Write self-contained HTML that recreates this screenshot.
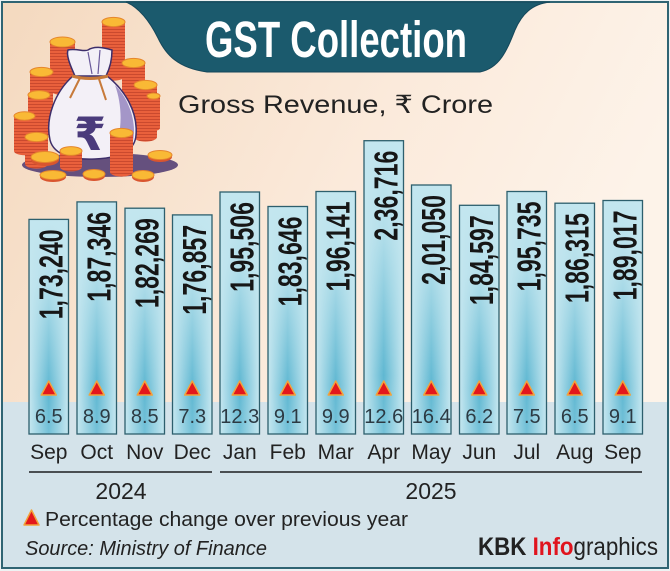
<!DOCTYPE html>
<html><head><meta charset="utf-8">
<style>
html,body{margin:0;padding:0;width:670px;height:571px;overflow:hidden;background:#fff}
svg{display:block}
text{font-family:"Liberation Sans","DejaVu Sans",sans-serif}
.v{font-size:33px;font-weight:bold;fill:#161616}
.p{font-size:20px;fill:#2c3a43;text-anchor:middle}
.m{font-size:21px;fill:#222;text-anchor:middle}
.tri{fill:#e3171c;stroke:#f3a23a;stroke-width:1.5;stroke-linejoin:round}
.bar{fill:url(#bv);stroke:#2d5f6d;stroke-width:1.3}
.bh{fill:url(#bh)}
.ct{fill:#f9b935;stroke:#e6862c;stroke-width:1}
.cb{fill:url(#stripe)}
</style></head><body>
<svg width="670" height="571" viewBox="0 0 670 571" xmlns="http://www.w3.org/2000/svg">
<defs>
<linearGradient id="peach" x1="0" y1="0" x2="1" y2="0.3">
<stop offset="0" stop-color="#f4d9bf"/>
<stop offset="0.6" stop-color="#fbeadb"/>
<stop offset="1" stop-color="#fdf3e9"/>
</linearGradient>
<linearGradient id="bh" x1="0" x2="1" y1="0" y2="0">
<stop offset="0" stop-color="#c6e7f0"/>
<stop offset="0.5" stop-color="#5ab5d0"/>
<stop offset="1" stop-color="#c6e7f0"/>
</linearGradient>
<linearGradient id="bv" x1="0" x2="0" y1="0" y2="1">
<stop offset="0" stop-color="#c3e6ef" stop-opacity="1"/>
<stop offset="0.3" stop-color="#c3e6ef" stop-opacity="0.85"/>
<stop offset="0.8" stop-color="#c3e6ef" stop-opacity="0.05"/>
<stop offset="1" stop-color="#c3e6ef" stop-opacity="0.25"/>
</linearGradient>
<pattern id="stripe" patternUnits="userSpaceOnUse" width="6" height="3">
<rect width="6" height="3" fill="#e9603c"/>
<rect y="2.2" width="6" height="0.8" fill="#c2432a"/>
</pattern>
</defs>

<rect x="0" y="0" width="670" height="571" fill="#eef2f3"/>
<rect x="2" y="2" width="666" height="400" fill="url(#peach)"/>
<rect x="2" y="402" width="666" height="166" fill="#d4e3ea"/>
<rect x="2" y="2" width="666" height="566" fill="none" stroke="#2f6473" stroke-width="2"/>

<path d="M126 2 C140 8,150 22,158 38 C166 55,178 68,207 72 L480 72 C500 68,507 50,515 30 C522 14,532 4,550 2 Z" fill="#1b5a6d" stroke="#15475a" stroke-width="1"/>
<text x="336" y="57" font-size="51" font-weight="bold" fill="#ffffff" text-anchor="middle" textLength="262" lengthAdjust="spacingAndGlyphs">GST Collection</text>

<text x="178" y="113" font-size="25" fill="#222" textLength="315" lengthAdjust="spacingAndGlyphs">Gross Revenue, ₹ Crore</text>

<g>
<path class="cb" d="M102 22 L102 76 A11.5 4.6 0 0 0 125 76 L125 22 Z"/><ellipse class="ct" cx="113.5" cy="22" rx="11.5" ry="4.6"/>
<path class="cb" d="M50 42 L50 90 A12.5 5 0 0 0 75 90 L75 42 Z"/><ellipse class="ct" cx="62.5" cy="42" rx="12.5" ry="5"/>
<path class="cb" d="M122 63 L122 107 A11.5 4.6 0 0 0 145 107 L145 63 Z"/><ellipse class="ct" cx="133.5" cy="63" rx="11.5" ry="4.6"/>
<path class="cb" d="M30 72 L30 120 A11.5 4.6 0 0 0 53 120 L53 72 Z"/><ellipse class="ct" cx="41.5" cy="72" rx="11.5" ry="4.6"/>
<path class="cb" d="M28 95 L28 133 A11 4.4 0 0 0 50 133 L50 95 Z"/><ellipse class="ct" cx="39" cy="95" rx="11" ry="4.4"/>
<path class="cb" d="M134 85 L134 137 A11.5 4.6 0 0 0 157 137 L157 85 Z"/><ellipse class="ct" cx="145.5" cy="85" rx="11.5" ry="4.6"/>
<path class="cb" d="M147 96 L147 128 A6.5 3 0 0 0 160 128 L160 96 Z"/><ellipse class="ct" cx="153.5" cy="96" rx="6.5" ry="3"/>
<path class="cb" d="M14 116 L14 151 A10.5 4.2 0 0 0 35 151 L35 116 Z"/><ellipse class="ct" cx="24.5" cy="116" rx="10.5" ry="4.2"/>
<ellipse cx="100" cy="165" rx="78" ry="12" fill="#4b3670" opacity="0.85"/>
<path d="M73 76 C55 92,45 118,50 140 C54 156,75 160,95 159 C118 158,135 152,136 135 C138 112,125 90,107 76 Z" fill="#f3f0f7" stroke="#3d2e6a" stroke-width="1.5"/>
<path d="M115 85 C130 100,138 125,132 145 C128 152,118 156,110 157 C122 140,124 110,115 85 Z" fill="#8a78b8" opacity="0.75"/>
<path d="M75 76 C70 65,66 55,68 50 C76 48,84 52,88 50 C94 46,102 47,112 50 C112 58,110 68,106 76 Z" fill="#f3f0f7" stroke="#3d2e6a" stroke-width="1.5"/>
<path d="M88 52 L92 74 M100 50 L98 74" stroke="#6a5a9a" stroke-width="1.2" fill="none"/>
<path d="M72 76 Q90 81 108 76" stroke="#c77a3a" stroke-width="3" fill="none"/>
<path d="M80 78 L70 98 M99 79 L106 100" stroke="#c77a3a" stroke-width="2" fill="none"/>
<text x="90" y="150" font-size="46" font-weight="bold" fill="#4a3b7c" text-anchor="middle" style="font-family:'DejaVu Sans',sans-serif">₹</text>
<path class="cb" d="M25 137 L25 164 A11.5 4.6 0 0 0 48 164 L48 137 Z"/><ellipse class="ct" cx="36.5" cy="137" rx="11.5" ry="4.6"/>
<path class="cb" d="M110 133 L110 172 A11.5 4.6 0 0 0 133 172 L133 133 Z"/><ellipse class="ct" cx="121.5" cy="133" rx="11.5" ry="4.6"/>
<path class="cb" d="M60 151 L60 167 A11 4.4 0 0 0 82 167 L82 151 Z"/><ellipse class="ct" cx="71" cy="151" rx="11" ry="4.4"/>
<ellipse cx="45" cy="160" rx="14" ry="6" fill="#d9552f"/><ellipse class="ct" cx="45" cy="157" rx="14" ry="5.5"/>
<ellipse cx="94" cy="176" rx="11" ry="5" fill="#d9552f"/><ellipse class="ct" cx="94" cy="174" rx="11" ry="4.5"/>
<ellipse cx="143" cy="177" rx="11" ry="5" fill="#d9552f"/><ellipse class="ct" cx="143" cy="175" rx="11" ry="4.5"/>
<ellipse cx="160" cy="157" rx="12" ry="5" fill="#d9552f"/><ellipse class="ct" cx="160" cy="155" rx="12" ry="4.5"/>
<ellipse cx="53" cy="177" rx="13" ry="5" fill="#d9552f"/><ellipse class="ct" cx="53" cy="175" rx="13" ry="4.5"/>
</g>

<g>
<rect class="bh" x="29" y="219.4" width="39.5" height="214.6"/><rect class="bar" x="29" y="219.4" width="39.5" height="214.6"/>
<rect class="bh" x="77" y="201.9" width="39.5" height="232.1"/><rect class="bar" x="77" y="201.9" width="39.5" height="232.1"/>
<rect class="bh" x="125" y="208.2" width="39.5" height="225.8"/><rect class="bar" x="125" y="208.2" width="39.5" height="225.8"/>
<rect class="bh" x="172.5" y="214.9" width="39.5" height="219.1"/><rect class="bar" x="172.5" y="214.9" width="39.5" height="219.1"/>
<rect class="bh" x="220" y="192" width="39.5" height="242"/><rect class="bar" x="220" y="192" width="39.5" height="242"/>
<rect class="bh" x="268" y="206.5" width="39.5" height="227.5"/><rect class="bar" x="268" y="206.5" width="39.5" height="227.5"/>
<rect class="bh" x="316" y="191.5" width="39.5" height="242.5"/><rect class="bar" x="316" y="191.5" width="39.5" height="242.5"/>
<rect class="bh" x="364" y="140.7" width="39.5" height="293.3"/><rect class="bar" x="364" y="140.7" width="39.5" height="293.3"/>
<rect class="bh" x="411.5" y="185" width="39.5" height="249"/><rect class="bar" x="411.5" y="185" width="39.5" height="249"/>
<rect class="bh" x="459.5" y="205.3" width="39.5" height="228.7"/><rect class="bar" x="459.5" y="205.3" width="39.5" height="228.7"/>
<rect class="bh" x="507" y="191.5" width="39.5" height="242.5"/><rect class="bar" x="507" y="191.5" width="39.5" height="242.5"/>
<rect class="bh" x="555" y="203.2" width="39.5" height="230.8"/><rect class="bar" x="555" y="203.2" width="39.5" height="230.8"/>
<rect class="bh" x="603" y="200.5" width="39.5" height="233.5"/><rect class="bar" x="603" y="200.5" width="39.5" height="233.5"/>
</g>

<g text-anchor="end">
<text class="v" transform="translate(62.5,229.4) rotate(-90) scale(0.7,1)">1,73,240</text>
<text class="v" transform="translate(110.5,211.9) rotate(-90) scale(0.7,1)">1,87,346</text>
<text class="v" transform="translate(158.5,218.2) rotate(-90) scale(0.7,1)">1,82,269</text>
<text class="v" transform="translate(206,224.9) rotate(-90) scale(0.7,1)">1,76,857</text>
<text class="v" transform="translate(253.5,202) rotate(-90) scale(0.7,1)">1,95,506</text>
<text class="v" transform="translate(301.5,216.5) rotate(-90) scale(0.7,1)">1,83,646</text>
<text class="v" transform="translate(349.5,201.5) rotate(-90) scale(0.7,1)">1,96,141</text>
<text class="v" transform="translate(397.5,150.7) rotate(-90) scale(0.7,1)">2,36,716</text>
<text class="v" transform="translate(445,195) rotate(-90) scale(0.7,1)">2,01,050</text>
<text class="v" transform="translate(493,215.3) rotate(-90) scale(0.7,1)">1,84,597</text>
<text class="v" transform="translate(540.5,201.5) rotate(-90) scale(0.7,1)">1,95,735</text>
<text class="v" transform="translate(588.5,213.2) rotate(-90) scale(0.7,1)">1,86,315</text>
<text class="v" transform="translate(636.5,210.5) rotate(-90) scale(0.7,1)">1,89,017</text>
</g>

<g>
<path class="tri" d="M48.75 381 L41.25 395 L56.25 395 Z"/>
<path class="tri" d="M96.75 381 L89.25 395 L104.25 395 Z"/>
<path class="tri" d="M144.75 381 L137.25 395 L152.25 395 Z"/>
<path class="tri" d="M192.25 381 L184.75 395 L199.75 395 Z"/>
<path class="tri" d="M239.75 381 L232.25 395 L247.25 395 Z"/>
<path class="tri" d="M287.75 381 L280.25 395 L295.25 395 Z"/>
<path class="tri" d="M335.75 381 L328.25 395 L343.25 395 Z"/>
<path class="tri" d="M383.75 381 L376.25 395 L391.25 395 Z"/>
<path class="tri" d="M431.25 381 L423.75 395 L438.75 395 Z"/>
<path class="tri" d="M479.25 381 L471.75 395 L486.75 395 Z"/>
<path class="tri" d="M526.75 381 L519.25 395 L534.25 395 Z"/>
<path class="tri" d="M574.75 381 L567.25 395 L582.25 395 Z"/>
<path class="tri" d="M622.75 381 L615.25 395 L630.25 395 Z"/>
</g>

<g>
<text class="p" x="48.75" y="423">6.5</text>
<text class="p" x="96.75" y="423">8.9</text>
<text class="p" x="144.75" y="423">8.5</text>
<text class="p" x="192.25" y="423">7.3</text>
<text class="p" x="239.75" y="423">12.3</text>
<text class="p" x="287.75" y="423">9.1</text>
<text class="p" x="335.75" y="423">9.9</text>
<text class="p" x="383.75" y="423">12.6</text>
<text class="p" x="431.25" y="423">16.4</text>
<text class="p" x="479.25" y="423">6.2</text>
<text class="p" x="526.75" y="423">7.5</text>
<text class="p" x="574.75" y="423">6.5</text>
<text class="p" x="622.75" y="423">9.1</text>
</g>

<g>
<text class="m" x="48.75" y="459">Sep</text>
<text class="m" x="96.75" y="459">Oct</text>
<text class="m" x="144.75" y="459">Nov</text>
<text class="m" x="192.25" y="459">Dec</text>
<text class="m" x="239.75" y="459">Jan</text>
<text class="m" x="287.75" y="459">Feb</text>
<text class="m" x="335.75" y="459">Mar</text>
<text class="m" x="383.75" y="459">Apr</text>
<text class="m" x="431.25" y="459">May</text>
<text class="m" x="479.25" y="459">Jun</text>
<text class="m" x="526.75" y="459">Jul</text>
<text class="m" x="574.75" y="459">Aug</text>
<text class="m" x="622.75" y="459">Sep</text>
</g>

<line x1="29" y1="472" x2="212" y2="472" stroke="#4a4f52" stroke-width="2"/>
<line x1="220" y1="472" x2="642" y2="472" stroke="#4a4f52" stroke-width="2"/>
<text x="121" y="499" font-size="23" fill="#222" text-anchor="middle">2024</text>
<text x="431" y="499" font-size="23" fill="#222" text-anchor="middle">2025</text>

<path class="tri" d="M31.5 510 L24 525 L39 525 Z"/>
<text x="45" y="526" font-size="20" fill="#222" textLength="363" lengthAdjust="spacingAndGlyphs">Percentage change over previous year</text>
<text x="25" y="555" font-size="20" font-style="italic" fill="#222" textLength="242" lengthAdjust="spacingAndGlyphs">Source: Ministry of Finance</text>

<text x="478" y="555" font-size="25" fill="#222" textLength="180" lengthAdjust="spacingAndGlyphs"><tspan font-weight="bold">KBK </tspan><tspan font-weight="bold" fill="#e0141e">Info</tspan><tspan>graphics</tspan></text>
</svg>
</body></html>
